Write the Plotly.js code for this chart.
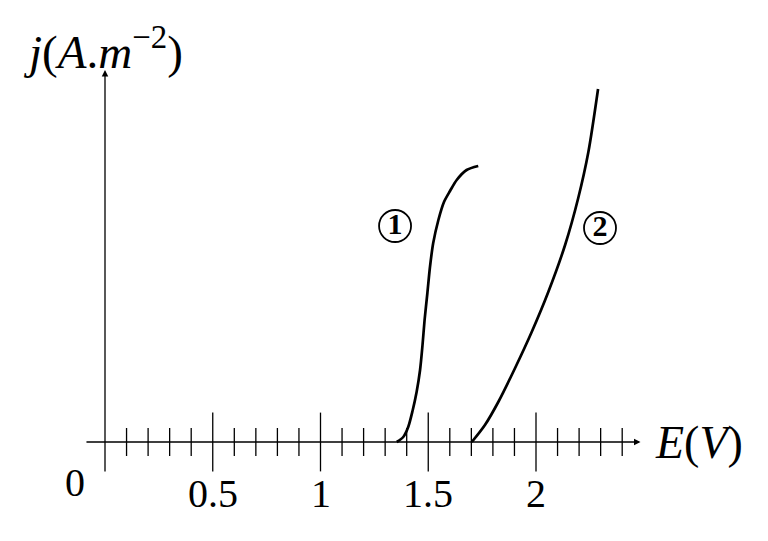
<!DOCTYPE html>
<html>
<head>
<meta charset="utf-8">
<script src="https://cdn.plot.ly/plotly-3.0.1.min.js"></script>
<style>html,body{margin:0;padding:0;background:#fff;}#chart{width:768px;height:541px;}</style>
</head>
<body>
<div id="chart"></div>
<script>
// Curve ① (E in V, j in arbitrary units)
const curve1E = [1.354, 1.384, 1.407, 1.427, 1.446, 1.462, 1.473, 1.483, 1.496, 1.508, 1.523, 1.547, 1.573, 1.601, 1.632, 1.678, 1.732];
const curve1J = [0, 5, 15, 31, 50, 72, 96, 122, 149, 175, 199, 222, 240, 251, 262, 272, 276];
// Curve ②
const curve2E = [1.702, 1.763, 1.825, 1.903, 1.980, 2.057, 2.135, 2.196, 2.243, 2.288];
const curve2J = [0, 17, 40, 74, 110, 150, 197, 244, 290, 353];
// Axis ticks
const minorTicks = [0.1,0.2,0.3,0.4,0.6,0.7,0.8,0.9,1.1,1.2,1.3,1.4,1.6,1.7,1.8,1.9,2.1,2.2,2.3,2.4];
const majorTicks = [0.5, 1, 1.5, 2];
const majorLabels = ["0.5", "1", "1.5", "2"];
// Curve labels
const curveLabelE = [1.346, 2.297];
const curveLabelJ = [216, 214];
const curveLabelText = ["<b>1</b>", "<b>2</b>"];

const serif = "Liberation Serif, DejaVu Serif, serif";
const pxPerUnit = 215.5;
const xRange = [-105 / pxPerUnit, 663 / pxPerUnit];
const yRange = [-99, 442];

const traces = [
  {x: minorTicks, y: minorTicks.map(() => 0), mode: "markers", hoverinfo: "skip",
   marker: {symbol: "line-ns", size: 20, color: "black", line: {width: 1.3, color: "black"}}},
  {x: majorTicks, y: majorTicks.map(() => 0), mode: "markers", hoverinfo: "skip",
   marker: {symbol: "line-ns", size: 42, color: "black", line: {width: 1.3, color: "black"}}},
  {x: curve1E, y: curve1J, mode: "lines", line: {color: "black", width: 2.7, shape: "spline", smoothing: 0.8}},
  {x: curve2E, y: curve2J, mode: "lines", line: {color: "black", width: 2.7, shape: "spline", smoothing: 0.8}},
  {x: curveLabelE, y: curveLabelJ, mode: "markers+text", text: curveLabelText,
   textposition: "middle center", textfont: {family: serif, size: 30, color: "black"},
   marker: {symbol: "circle-open", size: 32, color: "black", line: {width: 1.8, color: "black"}}}
];

const annotations = [
  // x axis arrow
  {x: 2.485, y: 0, ax: -0.093, ay: 0, xref: "x", yref: "y", axref: "x", ayref: "y",
   showarrow: true, arrowhead: 2, arrowsize: 1, arrowwidth: 1.3, arrowcolor: "black", text: ""},
  // y axis arrow
  {x: 0, y: 372, ax: 0, ay: -31, xref: "x", yref: "y", axref: "x", ayref: "y",
   showarrow: true, arrowhead: 2, arrowsize: 1, arrowwidth: 1.3, arrowcolor: "black", text: ""},
  {x: 2.755, y: 0, xref: "x", yref: "y", text: "<i>E</i>(<i>V</i>)", showarrow: false,
   font: {family: serif, size: 46, color: "black"}},
  {x: -0.01, y: 394, xref: "x", yref: "y", text: "<i>j</i>(<i>A</i>.<i>m</i><sup>−2</sup>)", showarrow: false,
   font: {family: serif, size: 47, color: "black"}},
  {x: -0.139, y: -40, xref: "x", yref: "y", text: "0", showarrow: false,
   font: {family: serif, size: 40, color: "black"}}
];
majorTicks.forEach((v, i) => annotations.push({
  x: v, y: -51, xref: "x", yref: "y", text: majorLabels[i], showarrow: false,
  font: {family: serif, size: 40, color: "black"}
}));

const layout = {
  width: 768, height: 541,
  margin: {l: 0, r: 0, t: 0, b: 0},
  paper_bgcolor: "white", plot_bgcolor: "white",
  showlegend: false,
  xaxis: {range: xRange, visible: false, fixedrange: true},
  yaxis: {range: yRange, visible: false, fixedrange: true},
  annotations: annotations
};

Plotly.newPlot("chart", traces, layout, {staticPlot: true, displayModeBar: false});
</script>
</body>
</html>
